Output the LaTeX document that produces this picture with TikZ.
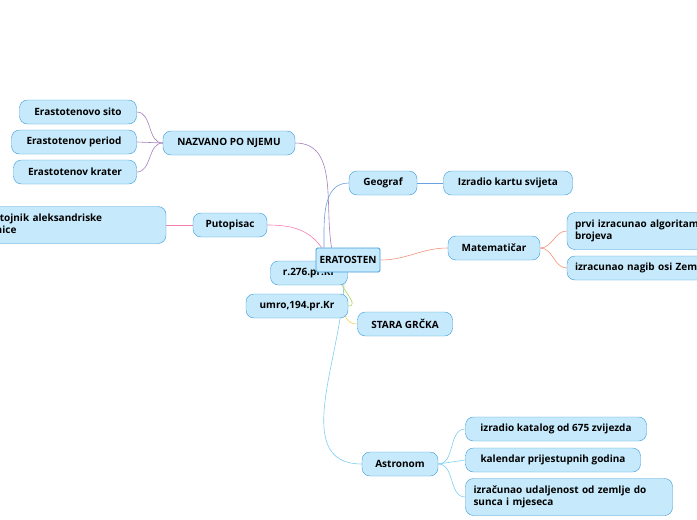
\documentclass[tikz,border=0pt]{standalone}
\usepackage{fontspec}
\setmainfont{Open Sans}
\usetikzlibrary{positioning,backgrounds}
\definecolor{boxfill}{HTML}{C6EAFB}
\definecolor{boxline}{HTML}{3D9BD8}
\definecolor{cpurple}{HTML}{A67FB8}
\definecolor{cpink}{HTML}{F27FB0}
\definecolor{cblue}{HTML}{6A9FE0}
\definecolor{csalmon}{HTML}{F5937A}
\definecolor{cgreen}{HTML}{A9D45A}
\definecolor{cyellow}{HTML}{F7CF5B}
\definecolor{ccyan}{HTML}{7FD0F0}
\begin{document}
\begin{tikzpicture}[x=1pt, y=-1pt,
   topic/.style={rectangle, rounded corners=8pt, draw=boxline, fill=boxfill,
      font=\fontsize{10}{12}\selectfont\bfseries, minimum height=24pt, inner xsep=8pt},
   root/.style={rectangle, rounded corners=1.5pt, draw=boxline, fill=boxfill, thick,
      font=\fontsize{10}{12}\selectfont\bfseries, minimum height=24pt, inner xsep=3pt},
   twoline/.style={topic, text width=#1, align=left, minimum height=37pt},
   link/.style={line width=0.6pt}]
   \clip (0,0) rectangle (697,520);
   \useasboundingbox (0,0) rectangle (697,520);

   % branches
   \node (rKr) at (309,273) [topic, minimum width=77pt] {r.276.pr.Kr};
   \node (umro) at (297,306) [topic, minimum width=102pt] {umro,194.pr.Kr};
   \node (era) at (348,260) [root, minimum width=64pt] {ERATOSTEN};
   \node (grcka) at (405,324) [topic, minimum width=95pt] {STARA GRČKA};
   \node (geo) at (383,183) [topic, minimum width=68pt] {Geograf};
   \node (karta) at (508,183) [topic, minimum width=129pt] {Izradio kartu svijeta};
   \node (mat) at (494,248) [topic, minimum width=92pt] {Matematičar};
   \node (algo) at (662,231) [twoline=174pt] {prvi izracunao algoritam prostih\\brojeva};
   \node (nagib) at (662,268) [topic, text width=174pt, align=left] {izracunao nagib osi Zemlje};
   \node (astro) at (400,464) [topic, minimum width=76pt] {Astronom};
   \node (katalog) at (556,429) [topic, minimum width=181pt] {izradio katalog od 675 zvijezda};
   \node (kalendar) at (553,460) [topic, minimum width=175pt] {kalendar prijestupnih godina};
   \node (udalj) at (569,497) [twoline=191pt] {izračunao udaljenost od zemlje do\\sunca i mjeseca};
   \node (nazv) at (229,143) [topic, minimum width=132pt] {NAZVANO PO NJEMU};
   \node (sito) at (78,112) [topic, minimum width=117pt] {Erastotenovo sito};
   \node (period) at (74,142) [topic, minimum width=125pt] {Erastotenov period};
   \node (krater) at (75,172) [topic, minimum width=123pt] {Erastotenov krater};
   \node (puto) at (230,225) [topic, minimum width=74pt] {Putopisac};
   \node (knjiz) at (65,225) [twoline=186pt] {Predstojnik aleksandriske\\knjižnice};

   % connectors
   \begin{scope}[on background layer]
   \draw[link, cpurple] (era.north west) ++(16,0) to[out=100, in=0] (nazv.east);
   \draw[link, cpurple] (nazv.west) to[out=180, in=0] (sito.east);
   \draw[link, cpurple] (nazv.west) -- (period.east);
   \draw[link, cpurple] (nazv.west) to[out=180, in=0] (krater.east);
   \draw[link, cpink] (era.north west) ++(6,0) to[out=125, in=0] (puto.east);
   \draw[link, cpink] (puto.west) -- (knjiz.east);
   \draw[link, cblue] (era.north) ++(-24,0) to[out=90, in=180] (geo.west);
   \draw[link, cblue] (geo.east) -- (karta.west);
   \draw[link, csalmon] (era.east) to[out=0, in=180] (mat.west);
   \draw[link, csalmon] (mat.east) to[out=0, in=180] (algo.west);
   \draw[link, csalmon] (mat.east) to[out=0, in=180] (nagib.west);
   \draw[link, cgreen] (era.south) ++(-10,0) to[out=-95, in=0] (umro.east);
   \draw[link, cyellow] (era.south) ++(-5,0) to[out=-80, in=180] (grcka.west);
   \draw[link, ccyan] (era.south) ++(-4,0) to[out=-88, in=180] (astro.west);
   \draw[link, ccyan] (astro.east) to[out=0, in=180] (katalog.west);
   \draw[link, ccyan] (astro.east) -- (kalendar.west);
   \draw[link, ccyan] (astro.east) to[out=0, in=180] (udalj.west);
   \end{scope}
\end{tikzpicture}
\end{document}
